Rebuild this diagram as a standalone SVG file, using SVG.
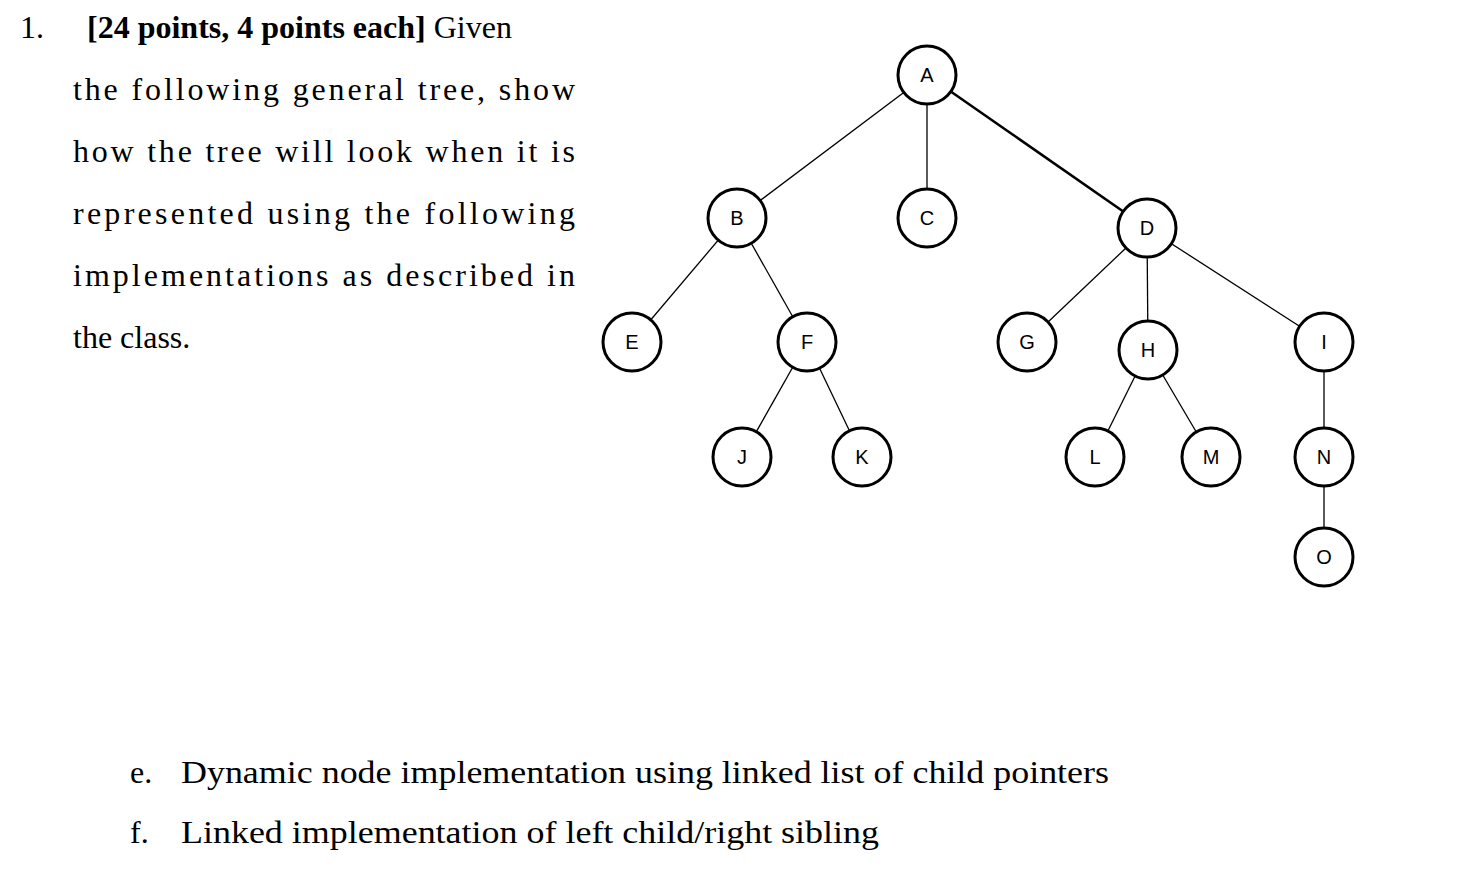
<svg xmlns="http://www.w3.org/2000/svg" width="1481" height="886" viewBox="0 0 1481 886">
<style>
.t{font-family:"Liberation Serif",serif;font-size:32px;fill:#000}
.n circle{fill:#fff;stroke:#000;stroke-width:3}
.n text{font-family:"Liberation Sans",sans-serif;font-size:20px;text-anchor:middle;fill:#000}
.e line{stroke:#000;stroke-width:1.3}
</style>
<rect width="1481" height="886" fill="#fff"/>
<text class="t" x="20" y="38">1.</text>
<text class="t" x="87" y="38"><tspan font-weight="bold">[24 points, 4 points each]</tspan> Given</text>
<text class="t" x="73" y="100" textLength="502" lengthAdjust="spacing">the following general tree, show</text>
<text class="t" x="73" y="162" textLength="502" lengthAdjust="spacing">how the tree will look when it is</text>
<text class="t" x="73" y="224" textLength="502" lengthAdjust="spacing">represented using the following</text>
<text class="t" x="73" y="286" textLength="502" lengthAdjust="spacing">implementations as described in</text>
<text class="t" x="73" y="348">the class.</text>
<text class="t" x="130" y="783">e.</text>
<text class="t" x="181" y="783" textLength="928" lengthAdjust="spacingAndGlyphs">Dynamic node implementation using linked list of child pointers</text>
<text class="t" x="130" y="843">f.</text>
<text class="t" x="181" y="843" textLength="698" lengthAdjust="spacingAndGlyphs">Linked implementation of left child/right sibling</text>
<g class="e" id="connectors">
<line x1="927" y1="75" x2="737" y2="218"/>
<line x1="927" y1="75" x2="927" y2="218"/>
<line x1="927" y1="75" x2="1147" y2="228" style="stroke-width:2.5"/>
<line x1="737" y1="218" x2="632" y2="342"/>
<line x1="737" y1="218" x2="807" y2="342"/>
<line x1="807" y1="342" x2="742" y2="457"/>
<line x1="807" y1="342" x2="862" y2="457"/>
<line x1="1147" y1="228" x2="1027" y2="342"/>
<line x1="1147" y1="228" x2="1148" y2="350"/>
<line x1="1147" y1="228" x2="1324" y2="342"/>
<line x1="1148" y1="350" x2="1095" y2="457"/>
<line x1="1148" y1="350" x2="1211" y2="457"/>
<line x1="1324" y1="342" x2="1324" y2="557"/>
</g>
<g class="n" id="A"><circle cx="927" cy="75" r="29"/><text x="927" y="82">A</text></g>
<g class="n" id="B"><circle cx="737" cy="218" r="29"/><text x="737" y="225">B</text></g>
<g class="n" id="C"><circle cx="927" cy="218" r="29"/><text x="927" y="225">C</text></g>
<g class="n" id="D"><circle cx="1147" cy="228" r="29"/><text x="1147" y="235">D</text></g>
<g class="n" id="E"><circle cx="632" cy="342" r="29"/><text x="632" y="349">E</text></g>
<g class="n" id="F"><circle cx="807" cy="342" r="29"/><text x="807" y="349">F</text></g>
<g class="n" id="G"><circle cx="1027" cy="342" r="29"/><text x="1027" y="349">G</text></g>
<g class="n" id="H"><circle cx="1148" cy="350" r="29"/><text x="1148" y="357">H</text></g>
<g class="n" id="I"><circle cx="1324" cy="342" r="29"/><text x="1324" y="349">I</text></g>
<g class="n" id="J"><circle cx="742" cy="457" r="29"/><text x="742" y="464">J</text></g>
<g class="n" id="K"><circle cx="862" cy="457" r="29"/><text x="862" y="464">K</text></g>
<g class="n" id="L"><circle cx="1095" cy="457" r="29"/><text x="1095" y="464">L</text></g>
<g class="n" id="M"><circle cx="1211" cy="457" r="29"/><text x="1211" y="464">M</text></g>
<g class="n" id="N"><circle cx="1324" cy="457" r="29"/><text x="1324" y="464">N</text></g>
<g class="n" id="O"><circle cx="1324" cy="557" r="29"/><text x="1324" y="564">O</text></g>
</svg>
